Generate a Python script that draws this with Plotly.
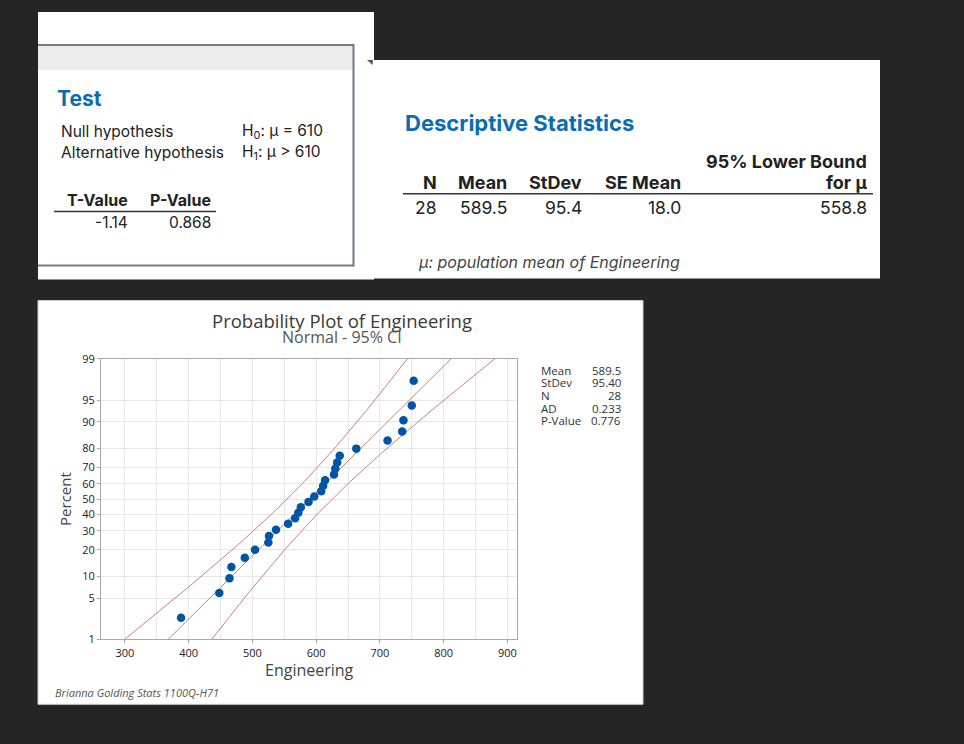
import numpy as np
import plotly.graph_objects as go
from statistics import NormalDist

# ---------------- data ----------------
engineering = [388, 448, 464, 467, 488, 504, 525, 526, 537, 556, 567, 572, 576, 588,
               597, 608, 611, 614, 628, 630, 633, 637, 663, 712, 735, 737, 750, 753]
fit_mean = 589.5
fit_stdev = 95.40
n_obs = 28

pct_ticks = [1, 5, 10, 20, 30, 40, 50, 60, 70, 80, 90, 95, 99]
x_ticks = [300, 400, 500, 600, 700, 800, 900]

test_rows = ["Null hypothesis", "Alternative hypothesis"]
test_hyp = ["H<sub>0</sub>: μ = 610", "H<sub>1</sub>: μ > 610"]
t_value = "-1.14"
p_value = "0.868"

desc_headers = ["N", "Mean", "StDev", "SE Mean", "95% Lower Bound<br>for μ"]
desc_values = ["28", "589.5", "95.4", "18.0", "558.8"]

stat_labels = ["Mean", "StDev", "N", "AD", "P-Value"]
stat_values = ["589.5", "95.40", "28", "0.233", "0.776"]

# ---------------- geometry helpers ----------------
W, H = 964, 744
TOP = 8.0
VSCALE = 0.978
def px(x):
    return x / W
def py(y):
    return 1 - ((y - TOP) / VSCALE) / H

nd = NormalDist()
ranks = np.arange(1, len(engineering) + 1)
z_pts = [nd.inv_cdf((i - 0.3) / (len(engineering) + 0.4)) for i in ranks]

z_line = np.linspace(nd.inv_cdf(0.005), nd.inv_cdf(0.995), 80)
fit_x = fit_mean + fit_stdev * z_line
se = fit_stdev * np.sqrt(1.0 / n_obs + z_line ** 2 / (2.0 * n_obs))
lo_x = fit_x - 1.959964 * se
hi_x = fit_x + 1.959964 * se

red = "#c98080"
fig = go.Figure()
for xs in (hi_x, fit_x, lo_x):
    fig.add_trace(go.Scatter(x=xs, y=z_line, mode="lines",
                             line=dict(color=red, width=1), hoverinfo="skip"))
fig.add_trace(go.Scatter(x=engineering, y=z_pts, mode="markers",
                         marker=dict(color="#0054a6", size=8.5, line=dict(width=0))))

shapes = []
annots = []

def rect(x0, y0, x1, y1, fill, line_color=None, lw=0):
    shapes.append(dict(type="rect", xref="paper", yref="paper",
                       x0=px(x0), x1=px(x1), y0=py(y1), y1=py(y0),
                       fillcolor=fill, line=dict(width=lw, color=line_color or fill),
                       layer="below"))

def hline(x0, x1, y, color, w=1):
    shapes.append(dict(type="line", xref="paper", yref="paper",
                       x0=px(x0), x1=px(x1), y0=py(y), y1=py(y),
                       line=dict(color=color, width=w), layer="above"))

def vline(x, y0, y1, color, w=1):
    shapes.append(dict(type="line", xref="paper", yref="paper",
                       x0=px(x), x1=px(x), y0=py(y0), y1=py(y1),
                       line=dict(color=color, width=w), layer="above"))

def text(x, y, s, size=14, color="#222", anchor="left", family="Inter", bold=False, italic=False):
    if bold:
        s = "<b>" + s + "</b>"
    if italic:
        s = "<i>" + s + "</i>"
    annots.append(dict(x=px(x), y=py(y), xref="paper", yref="paper", text=s,
                       showarrow=False, xanchor=anchor, yanchor="middle",
                       align=anchor if anchor != "center" else "center",
                       font=dict(size=size, color=color, family=family)))

# panels
rect(38, 12, 374, 279, "white")
rect(372, 60, 880, 278, "white")
rect(38, 300, 643, 703, "white", line_color="#cfcfcf", lw=1)
# test box
rect(38, 45, 353, 70, "#ececec")
hline(38, 354, 45, "#6e7b88", 2)
hline(38, 354, 265, "#6e7b88", 2)
vline(353.5, 44, 266, "#6e7b88", 2)
shapes.append(dict(type="path", xref="paper", yref="paper",
                   path=f"M {px(367)} {py(60)} L {px(373)} {py(60)} L {px(372.5)} {py(65)} Z",
                   fillcolor="#555", line=dict(width=0), layer="above"))

blue = "#0a6db4"
font_ui = "Inter"
# Test panel
text(55, 98, "Test", size=21, color=blue, bold=True, family=font_ui)
text(59, 131, test_rows[0], size=15.5, family=font_ui)
text(59, 152, test_rows[1], size=15.5, family=font_ui)
text(240, 131, test_hyp[0], size=15.5, family=font_ui)
text(240, 152, test_hyp[1], size=15.5, family=font_ui)
text(130, 200, "T-Value", size=16, anchor="right", bold=True, family=font_ui)
text(212.5, 200, "P-Value", size=16, anchor="right", bold=True, family=font_ui)
hline(54, 216, 211, "#333", 1.5)
text(130, 222, t_value, size=15.5, anchor="right", family=font_ui)
text(212.5, 222, p_value, size=15.5, anchor="right", family=font_ui)

# Descriptive stats panel
text(403, 123, "Descriptive Statistics", size=22, color=blue, bold=True, family=font_ui)
col_right = [439, 509, 583.5, 682.5, 868.5]
for i, (hd, val) in enumerate(zip(desc_headers, desc_values)):
    if "<br>" in hd:
        a, b = hd.split("<br>")
        text(col_right[i], 161, a, size=18, anchor="right", bold=True, family=font_ui)
        text(col_right[i], 182, b, size=18, anchor="right", bold=True, family=font_ui)
    else:
        text(col_right[i], 182, hd, size=18, anchor="right", bold=True, family=font_ui)
    text(col_right[i], 207, val, size=17.5, anchor="right", family=font_ui)
hline(403, 873, 193.5, "#333", 1.5)
text(416, 262, "μ: population mean of Engineering", size=16, color="#444", italic=True, family=font_ui)

# Minitab chart texts
mt = "Open Sans"
text(341.5, 320, "Probability Plot of Engineering", size=18.5, color="#3a3a3a", anchor="center", family=mt)
text(341.5, 336, "Normal - 95% CI", size=16, color="#555", anchor="center", family=mt)
text(309.5, 669, "Engineering", size=16, color="#444", anchor="center", family=mt)
annots.append(dict(x=px(65), y=py(498), xref="paper", yref="paper", text="Percent",
                   textangle=-90, showarrow=False, xanchor="center", yanchor="middle",
                   font=dict(size=15, color="#444", family=mt)))
text(53, 691.5, "Brianna Golding Stats 1100Q-H71", size=11, color="#555", italic=True, family=mt)
for k, (lab, val) in enumerate(zip(stat_labels, stat_values)):
    yy = 369.5 + k * 12.6
    text(538.5, yy, lab, size=11.5, color="#333", family=mt)
    text(623, yy, val, size=11.5, color="#333", anchor="right", family=mt)

grid = "#e7e7e7"
fig.update_layout(
    width=W, height=H,
    margin=dict(l=0, r=0, t=0, b=0),
    paper_bgcolor="#252525",
    plot_bgcolor="white",
    showlegend=False,
    shapes=shapes,
    annotations=annots,
    xaxis=dict(domain=[px(101), px(517.3)], range=[262.4, 915.6],
               tickvals=x_ticks, ticktext=[str(v) for v in x_ticks],
               showgrid=True, gridcolor=grid, gridwidth=1,
               minor=dict(dtick=50, tick0=0, showgrid=True, gridcolor=grid, ticks=""),
               showline=True, linecolor="#a8a8a8", linewidth=1, mirror=True,
               ticks="outside", ticklen=3, tickcolor="#a8a8a8", zeroline=False,
               tickfont=dict(size=11, color="#222", family=mt)),
    yaxis=dict(domain=[py(638.3), py(358.3)],
               range=[nd.inv_cdf(0.01), nd.inv_cdf(0.99)],
               tickvals=[nd.inv_cdf(p / 100) for p in pct_ticks],
               ticktext=[str(p) for p in pct_ticks],
               showgrid=True, gridcolor=grid, gridwidth=1,
               showline=True, linecolor="#a8a8a8", linewidth=1, mirror=True,
               ticks="outside", ticklen=3, tickcolor="#a8a8a8", zeroline=False,
               tickfont=dict(size=11, color="#222", family=mt)),
)

fig.write_html("out.html", config={"displayModeBar": False},
               post_script="document.body.style.margin='0px';document.body.style.background='#252525';")
